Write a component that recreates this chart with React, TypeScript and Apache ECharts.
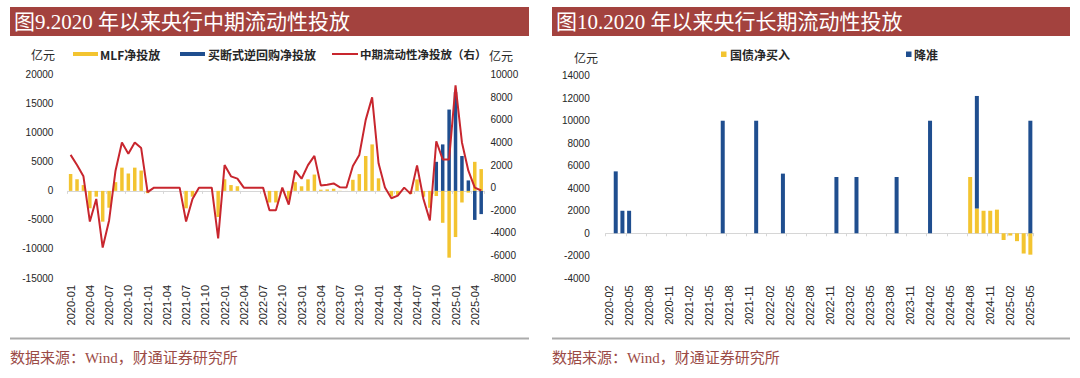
import React, { useEffect, useRef } from 'react';
import * as echarts from 'echarts';

// ---------- categories ----------
const MONTHS_L: string[] = [
  '2020-01', '2020-02', '2020-03', '2020-04', '2020-05', '2020-06', '2020-07', '2020-08', '2020-09', '2020-10', '2020-11', '2020-12',
  '2021-01', '2021-02', '2021-03', '2021-04', '2021-05', '2021-06', '2021-07', '2021-08', '2021-09', '2021-10', '2021-11', '2021-12',
  '2022-01', '2022-02', '2022-03', '2022-04', '2022-05', '2022-06', '2022-07', '2022-08', '2022-09', '2022-10', '2022-11', '2022-12',
  '2023-01', '2023-02', '2023-03', '2023-04', '2023-05', '2023-06', '2023-07', '2023-08', '2023-09', '2023-10', '2023-11', '2023-12',
  '2024-01', '2024-02', '2024-03', '2024-04', '2024-05', '2024-06', '2024-07', '2024-08', '2024-09', '2024-10', '2024-11', '2024-12',
  '2025-01', '2025-02', '2025-03', '2025-04', '2025-05',
];
const MONTHS_R: string[] = MONTHS_L.slice(1); // 2020-02 .. 2025-05

// ---------- left chart: 中期流动性 (亿元) ----------
const MLF_NET: number[] = [
  2900, 2000, 1000, -3000, -1000, -5300, -2900, 1500, 4000, 3000, 4000, 3500,
  -400, 0, 0, 0, 0, 0, -3000, -1000, 0, 0, 0, -4500,
  2000, 1000, 800, 0, 0, 0, 0, -2000, -2000, 0, -1500, 1500,
  790, 1990, 2810, 200, 250, 370, 30, 10, 1910, 2890, 6000, 8000,
  2160, 10, -940, -700, 0, -550, 1970, -1010, -2910, -890, -5500, -11500,
  -7950, -2000, -300, 5000, 3750,
];
const OUTRIGHT_MONTHS: string[] = ['2024-10', '2024-11', '2024-12', '2025-01', '2025-02', '2025-03', '2025-04', '2025-05'];
const OUTRIGHT_VALUES: number[] = [5000, 8000, 14000, 17000, 6000, 1800, -5000, -4000];
const MID_TOTAL: number[] = [
  2900, 2000, 1000, -3000, -1000, -5300, -2900, 1500, 4000, 3000, 4000, 3500,
  -400, 0, 0, 0, 0, 0, -3000, -1000, 0, 0, 0, -4500,
  2000, 1000, 800, 0, 0, 0, 0, -2000, -2000, 0, -1500, 1500,
  790, 1990, 2810, 200, 250, 370, 30, 10, 1910, 2890, 6000, 8000,
  2160, 10, -940, -700, 0, -550, 1970, -1010, -2910, 4110, 2500, 2500,
  9050, 4000, 1500, 0, -250,
];

// ---------- right chart: 长期流动性 (亿元) ----------
const TREASURY_MONTHS: string[] = ['2024-08', '2024-09', '2024-10', '2024-11', '2024-12', '2025-01', '2025-02', '2025-03', '2025-04', '2025-05'];
const TREASURY_VALUES: number[] = [5000, 2200, 2000, 2000, 2100, -600, -200, -700, -1800, -1900];
const RRR_MONTHS: string[] = ['2020-03', '2020-04', '2020-05', '2021-07', '2021-12', '2022-04', '2022-12', '2023-03', '2023-09', '2024-02', '2024-09', '2025-05'];
const RRR_VALUES: number[] = [5500, 2000, 2000, 10000, 10000, 5300, 5000, 5000, 5000, 10000, 10000, 10000];

const LEFT_TITLE = '图9.2020 年以来央行中期流动性投放';
const RIGHT_TITLE = '图10.2020 年以来央行长期流动性投放';
const SOURCE = '数据来源：Wind，财通证券研究所';

const sparse = (cats: string[], months: string[], values: number[]) =>
  cats.map((c) => {
    const i = months.indexOf(c);
    return i >= 0 ? values[i] : null;
  });

const YELLOW = '#F3C430';
const BLUE = '#1F4E8F';
const RED = '#C8262E';
const BRAND = '#A3423E';
const LABEL_FONT = "'Liberation Sans', Arial, sans-serif";
const CJK = "'Noto Sans CJK SC', sans-serif";
const SERIF_CJK = "'Liberation Serif', 'Noto Sans CJK SC', serif";

export default function App() {
  const ref = useRef<HTMLDivElement>(null);

  useEffect(() => {
    if (!ref.current) return;
    const chart = echarts.init(ref.current, undefined, { renderer: 'svg' });

    const labelAxis = (grid: number, data: string[]) => ({
      type: 'category',
      gridIndex: grid,
      data,
      position: 'bottom',
      axisLine: { show: false, onZero: false },
      axisTick: { show: false },
      splitLine: { show: false },
      axisLabel: {
        interval: 2,
        rotate: 90,
        margin: 7,
        fontSize: 11,
        fontFamily: LABEL_FONT,
        color: '#262626',
      },
    });
    const zeroAxis = (grid: number, data: string[]) => ({
      type: 'category',
      gridIndex: grid,
      data,
      position: 'bottom',
      axisLine: { show: true, onZero: true, lineStyle: { color: '#D6D6D6', width: 1 } },
      axisTick: { show: true, interval: 2, length: 3, lineStyle: { color: '#D6D6D6' } },
      axisLabel: { show: false },
      splitLine: { show: false },
    });
    const valueAxis = (grid: number, min: number, max: number, interval: number, position: string, margin: number) => ({
      type: 'value',
      gridIndex: grid,
      min,
      max,
      interval,
      position,
      axisLine: { show: false },
      axisTick: { show: false },
      splitLine: { show: false },
      axisLabel: {
        margin,
        fontSize: 10,
        fontFamily: LABEL_FONT,
        color: '#262626',
        formatter: (v: number) => String(v),
      },
    });

    const txt = (text: string, x: number, y: number, font: string, fill: string, extra: any = {}) => ({
      type: 'text',
      x,
      y,
      silent: true,
      style: { text, font, fill, verticalAlign: 'middle', align: 'left', ...extra },
    });

    const option: any = {
      animation: false,
      backgroundColor: '#ffffff',
      grid: [
        { left: 67.4, top: 74.7, width: 417, height: 203.3 },
        { left: 605.7, top: 75.7, width: 428, height: 202.6 },
      ],
      xAxis: [labelAxis(0, MONTHS_L), zeroAxis(0, MONTHS_L), labelAxis(1, MONTHS_R), zeroAxis(1, MONTHS_R)],
      yAxis: [
        valueAxis(0, -15000, 20000, 5000, 'left', 14),
        valueAxis(0, -8000, 10000, 2000, 'right', 6),
        valueAxis(1, -4000, 14000, 2000, 'left', 16),
      ],
      series: [
        {
          name: 'MLF净投放',
          type: 'bar',
          xAxisIndex: 0,
          yAxisIndex: 0,
          stack: 'mid',
          barWidth: 3.5,
          itemStyle: { color: YELLOW },
          data: MLF_NET,
        },
        {
          name: '买断式逆回购净投放',
          type: 'bar',
          xAxisIndex: 0,
          yAxisIndex: 0,
          stack: 'mid',
          barWidth: 3.5,
          itemStyle: { color: BLUE },
          data: sparse(MONTHS_L, OUTRIGHT_MONTHS, OUTRIGHT_VALUES),
        },
        {
          name: '中期流动性净投放（右）',
          type: 'line',
          xAxisIndex: 0,
          yAxisIndex: 1,
          symbol: 'none',
          showSymbol: false,
          z: 5,
          lineStyle: { color: RED, width: 2 },
          itemStyle: { color: RED },
          data: MID_TOTAL,
        },
        {
          name: '国债净买入',
          type: 'bar',
          xAxisIndex: 2,
          yAxisIndex: 2,
          stack: 'long',
          barWidth: 4,
          itemStyle: { color: YELLOW },
          data: sparse(MONTHS_R, TREASURY_MONTHS, TREASURY_VALUES),
        },
        {
          name: '降准',
          type: 'bar',
          xAxisIndex: 2,
          yAxisIndex: 2,
          stack: 'long',
          barWidth: 4,
          itemStyle: { color: BLUE },
          data: sparse(MONTHS_R, RRR_MONTHS, RRR_VALUES),
        },
      ],
      graphic: [
        // title bars
        { type: 'rect', silent: true, shape: { x: 10, y: 7, width: 519, height: 29 }, style: { fill: BRAND } },
        { type: 'rect', silent: true, shape: { x: 552, y: 7, width: 518, height: 29 }, style: { fill: BRAND } },
        txt(LEFT_TITLE, 14, 22, `21px ${SERIF_CJK}`, '#ffffff'),
        txt(RIGHT_TITLE, 556, 22, `21px ${SERIF_CJK}`, '#ffffff'),
        // left legend
        txt('亿元', 31, 54, `12px ${CJK}`, '#262626'),
        { type: 'rect', silent: true, shape: { x: 73, y: 52, width: 25, height: 4 }, style: { fill: YELLOW } },
        txt('MLF净投放', 100, 54, `bold 12px ${CJK}`, '#262626'),
        { type: 'rect', silent: true, shape: { x: 180, y: 52, width: 25, height: 4 }, style: { fill: BLUE } },
        txt('买断式逆回购净投放', 208, 54, `bold 12px ${CJK}`, '#262626'),
        { type: 'line', silent: true, shape: { x1: 332, y1: 54, x2: 358, y2: 54 }, style: { stroke: RED, lineWidth: 2 } },
        txt('中期流动性净投放（右）', 360, 54, `bold 11.5px ${CJK}`, '#262626'),
        txt('亿元', 489, 55, `12px ${CJK}`, '#262626'),
        // right legend
        txt('亿元', 574, 57, `12px ${CJK}`, '#262626'),
        { type: 'rect', silent: true, shape: { x: 721, y: 51.5, width: 5.5, height: 5.5 }, style: { fill: YELLOW } },
        txt('国债净买入', 730, 54, `bold 12px ${CJK}`, '#262626'),
        { type: 'rect', silent: true, shape: { x: 906, y: 51.5, width: 5.5, height: 5.5 }, style: { fill: BLUE } },
        txt('降准', 914, 54, `bold 12px ${CJK}`, '#262626'),
        // footers
        { type: 'line', silent: true, shape: { x1: 10, y1: 338.5, x2: 529, y2: 338.5 }, style: { stroke: '#ABABAB', lineWidth: 2 } },
        { type: 'line', silent: true, shape: { x1: 552, y1: 338.5, x2: 1070, y2: 338.5 }, style: { stroke: '#ABABAB', lineWidth: 2 } },
        txt(SOURCE, 10, 358, `15px ${SERIF_CJK}`, '#9B4B46'),
        txt(SOURCE, 552, 358, `15px ${SERIF_CJK}`, '#9B4B46'),
      ],
    };

    chart.setOption(option);
    return () => {
      chart.dispose();
    };
  }, []);

  return (
    <div
      ref={ref}
      style={{ position: 'absolute', left: 0, top: 0, width: 1080, height: 378, background: '#fff' }}
    />
  );
}
